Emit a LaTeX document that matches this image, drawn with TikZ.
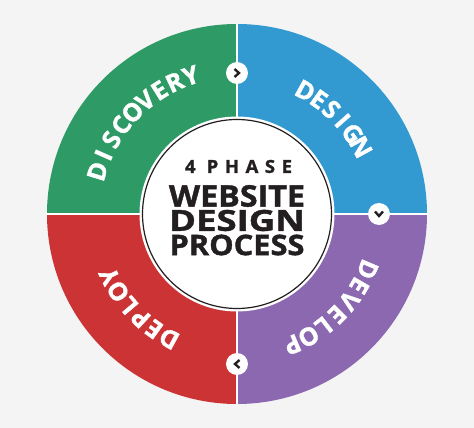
\documentclass[tikz,border=0pt]{standalone}
\usepackage{fontspec}
\usepackage{graphicx}
\newfontfamily\osans[BoldFeatures={FakeBold=1.3}]{Open Sans}
\definecolor{bg}{HTML}{F4F4F4}
\definecolor{cgreen}{HTML}{2E9A66}
\definecolor{cblue}{HTML}{3399D1}
\definecolor{cpurple}{HTML}{8B68B0}
\definecolor{cred}{HTML}{CC3335}
\definecolor{ink}{HTML}{231F20}
\newcommand\ringfont{\osans\bfseries\fontsize{25pt}{25pt}\selectfont}
\newlength\arcw
% #1 name prefix, #2 font, #3 letters, #4 baseline r, #5 spacing r, #6 first angle, #7 last angle
\newcommand\arcword[7]{%
  \xdef\arcS{0}\xdef\arcN{0}%
  \foreach \c [count=\i] in {#3}{%
    \settowidth\arcw{#2\c}%
    \pgfmathsetmacro\tmp{\arcS+\arcw}\xdef\arcS{\tmp}%
    \xdef\arcN{\i}%
    \ifnum\i=1 \xdef\arcWf{\the\arcw}\fi
    \xdef\arcWl{\the\arcw}%
  }%
  \pgfmathsetmacro\arcT{(((#6)-(#7))/57.29578*#5 - (\arcS - \arcWf/2 - \arcWl/2))/(\arcN-1)}%
  \xdef\arcT{\arcT}%
  \xdef\arcC{0}%
  \foreach \c [count=\i] in {#3}{%
    \settowidth\arcw{#2\c}%
    \pgfmathsetmacro\ang{(#6) - (\arcC + \arcw/2 - \arcWf/2)/#5*57.29578}%
    \pgfmathsetmacro\rot{\ang-90}%
    \node[arcletter, font=#2, rotate=\rot] (#1\i) at (\ang:#4pt) {\c};%
    \pgfmathsetmacro\tmp{\arcC+\arcw+\arcT}\xdef\arcC{\tmp}%
  }%
}
\begin{document}
\begin{tikzpicture}[x=1pt,y=1pt,
  divider/.style={white, line width=2pt},
  badge/.style={circle, fill=white, minimum size=22pt, inner sep=0pt},
  chev/.style={ink, line width=2.4pt, line join=miter},
  arcletter/.style={anchor=base, inner sep=0pt, text=white},
  hubtext/.style={inner sep=0pt, text=ink, font=\osans\bfseries}]
\useasboundingbox (-237,-214) rectangle (237,214);
\fill[bg] (-237,-214) rectangle (237,214);
\coordinate (c) at (0,0);
\coordinate (top) at (0,190);
\coordinate (bot) at (0,-190);
\coordinate (lft) at (-191,0);
\coordinate (rgt) at (191,0);
\fill[cgreen] (c) -- (top) arc[start angle=90,end angle=180,radius=190pt] -- cycle;
\fill[cblue] (c) -- (top) arc[start angle=90,end angle=0,radius=190pt] -- cycle;
\fill[cpurple] (c) -- (bot) arc[start angle=-90,end angle=0,radius=190pt] -- cycle;
\fill[cred] (c) -- (bot) arc[start angle=270,end angle=180,radius=190pt] -- cycle;
\draw[divider] (top) -- (bot);
\draw[divider] (lft) -- (rgt);
\node[circle, fill=white, minimum size=195pt, inner sep=0pt] (hub) at (c) {};
\node[circle, draw=ink, line width=1.2pt, minimum size=189pt, inner sep=0pt] (ring) at (c) {};
% badges
\node[badge] (b1) at (0,141) {};
\node[badge] (b2) at (142,0) {};
\node[badge] (b3) at (0,-150) {};
\draw[chev] ([shift={(-2.5,4)}]b1.center) -- ([shift={(2,0)}]b1.center) -- ([shift={(-2.5,-4)}]b1.center);
\draw[chev] ([shift={(-4,2.5)}]b2.center) -- ([shift={(0,-2)}]b2.center) -- ([shift={(4,2.5)}]b2.center);
\draw[chev] ([shift={(2.5,4)}]b3.center) -- ([shift={(-2,0)}]b3.center) -- ([shift={(2.5,-4)}]b3.center);
% ring words
\arcword{dis}{\ringfont}{D,I,S,C,O,V,E,R,Y}{137}{146}{163}{108.5}
\arcword{des}{\ringfont}{D,E,S,I,G,N}{132}{141}{61}{28.4}
\arcword{dev}{\ringfont}{D,E,V,E,L,O,P}{133}{142}{-23}{-67}
\arcword{dep}{\ringfont}{D,E,P,L,O,Y}{133}{142}{241.4}{206}
% hub text
\node[hubtext] (l1) at (1.5,47.5) {\resizebox{107pt}{13pt}{4\hspace{0.6em}P\hspace{0.35em}H\hspace{0.35em}A\hspace{0.35em}S\hspace{0.35em}E}};
\node[hubtext] (l2) at (0,18) {\resizebox{136pt}{21.5pt}{WEBSITE}};
\node[hubtext] (l3) at (0,-6.5) {\resizebox{136pt}{21pt}{DESIGN}};
\node[hubtext] (l4) at (0,-31) {\resizebox{135pt}{20.5pt}{PROCESS}};
\end{tikzpicture}
\end{document}
